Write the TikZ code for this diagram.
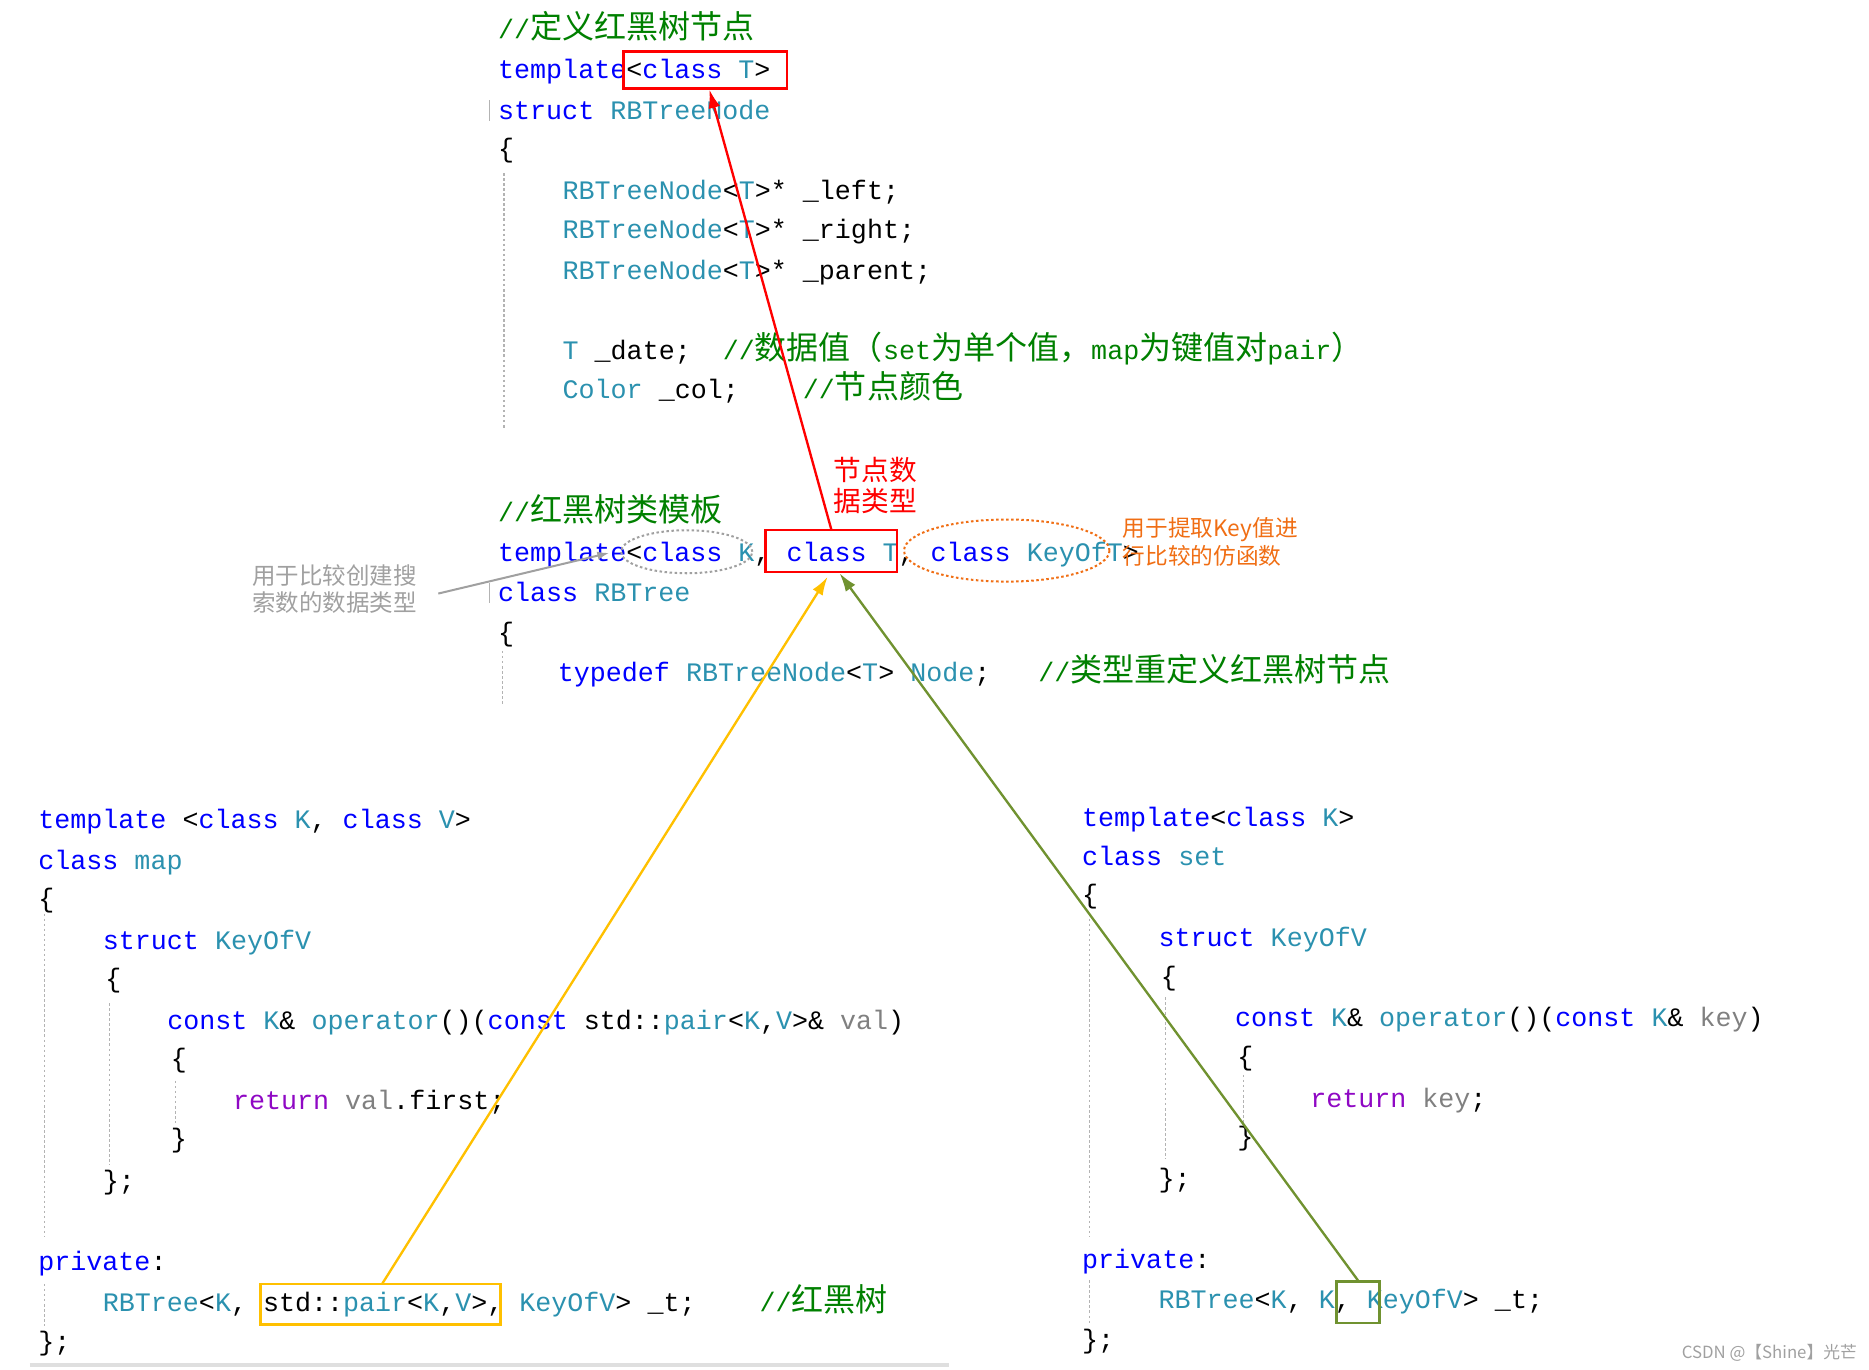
\documentclass[tikz,border=0pt]{standalone}
\usepackage{fontspec}
\setmonofont{Liberation Mono}
\newfontfamily\cjkmono[Scale=1.2]{Noto Sans CJK SC}
\newfontfamily\cjk{Noto Sans CJK SC}
\usetikzlibrary{arrows.meta,shapes.geometric}
\definecolor{kwc}{RGB}{0,0,255}
\definecolor{tyc}{RGB}{43,145,175}
\definecolor{cmc}{RGB}{0,128,0}
\definecolor{puc}{RGB}{143,8,196}
\definecolor{grc}{RGB}{128,128,128}
\definecolor{redc}{RGB}{255,0,0}
\definecolor{yelc}{RGB}{255,192,0}
\definecolor{grnc}{RGB}{112,146,48}
\definecolor{orac}{RGB}{240,110,20}
\definecolor{annc}{RGB}{160,160,160}
\newcommand\kw[1]{{\color{kwc}#1}}
\newcommand\ty[1]{{\color{tyc}#1}}
\newcommand\cm[1]{{\color{cmc}#1}}
\newcommand\pu[1]{{\color{puc}#1}}
\newcommand\gv[1]{{\color{grc}#1}}
\newcommand\cn[1]{{\cjkmono #1}}
\begin{document}
\begin{tikzpicture}[x=0.05cm,y=-0.05cm,
  code/.style={anchor=west,inner sep=0,yshift=-5*0.05cm,font=\ttfamily\fontsize{31.8pt}{36pt}\selectfont,text height=0.75em,text depth=0.2em},
  ann/.style={anchor=north west,inner sep=0,align=left,font=\cjk\fontsize{#1}{#1}\selectfont},
  hbox/.style={draw,line width=2.8pt,inner sep=0},
  guide/.style={draw=grc!60,dashed,line width=1.4pt},
  arr/.style={line width=2.8pt,-{Latex[length=22pt,width=14pt]}}]
\useasboundingbox (0,0) rectangle (1565,1147);
% RBTreeNode
\node[code] (a1) at (417,25) {\cm{//\cn{定义红黑树节点}}};
\node[code] (a2) at (417,59) {\kw{template}<\kw{class} \ty{T}>};
\node[code] (a3) at (417,93) {\kw{struct} \ty{RBTreeNode}};
\node[code] (a4) at (417,125) {\{};
\node[code] (a5) at (471,160) {\ty{RBTreeNode}<\ty{T}>* \_left;};
\node[code] (a6) at (471,193) {\ty{RBTreeNode}<\ty{T}>* \_right;};
\node[code] (a7) at (471,227) {\ty{RBTreeNode}<\ty{T}>* \_parent;};
\node[code] (a8) at (471,294) {\ty{T} \_date;~~\cm{//\cn{数据值（}set\cn{为单个值，}map\cn{为键值对}pair\cn{）}}};
\node[code] (a9) at (471,327) {\ty{Color} \_col;~~~~\cm{//\cn{节点颜色}}};
\draw[guide] (422,145) -- (422,360);
\draw[grc!60,line width=1.4pt] (410,84) -- (410,101);
% RBTree
\node[code] (b1) at (417,430) {\cm{//\cn{红黑树类模板}}};
\node[code] (b2) at (417,463) {\kw{template}<\kw{class} \ty{K},~\kw{class} \ty{T},~\kw{class} \ty{KeyOfT}>};
\node[code] (b3) at (417,497) {\kw{class} \ty{RBTree}};
\node[code] (b4) at (417,530) {\{};
\node[code] (b5) at (467,564) {\kw{typedef} \ty{RBTreeNode}<\ty{T}> \ty{Node};~~~\cm{//\cn{类型重定义红黑树节点}}};
\draw[guide] (421,545) -- (421,590);
\draw[grc!60,line width=1.4pt] (410,488) -- (410,505);
\node[hbox,draw=redc,minimum width=110*0.05cm,minimum height=35*0.05cm] (rb) at (696,461.5) {};
\node[hbox,draw=redc,minimum width=137*0.05cm,minimum height=31*0.05cm] (rt) at (590.5,58.5) {};
\node[draw=annc,dashed,line width=2.4pt,ellipse,minimum width=110*0.05cm,minimum height=36*0.05cm,inner sep=0] (ek) at (575,462) {};
\node[draw=orac,dashed,line width=2.4pt,ellipse,minimum width=172*0.05cm,minimum height=52*0.05cm,inner sep=0] (eo) at (843,461) {};
\node[ann=33pt,text=redc] (t1) at (698,383) {节点数\\[4pt]据类型};
\node[ann=27pt,text=orac] (t2) at (940,433) {用于提取Key值进\\[4pt]行比较的仿函数};
\node[ann=28pt,text=annc] (t3) at (211,473) {用于比较创建搜\\[4pt]索数的数据类型};
\coordinate (g1) at (367,497);
\draw[annc,line width=2.4pt,-{Latex[length=14pt,width=10pt]}] (g1) -- (510,463);
% map
\node[code] (m1) at (32,687) {\kw{template} <\kw{class} \ty{K},~\kw{class} \ty{V}>};
\node[code] (m2) at (32,721) {\kw{class} \ty{map}};
\node[code] (m3) at (32,753) {\{};
\node[code] (m4) at (86,788) {\kw{struct} \ty{KeyOfV}};
\node[code] (m5) at (88,820) {\{};
\node[code] (m6) at (140,855) {\kw{const} \ty{K}\& \ty{operator}()(\kw{const} std::\ty{pair}<\ty{K},\ty{V}>\& \gv{val})};
\node[code] (m7) at (143,887) {\{};
\node[code] (m8) at (195,922) {\pu{return} \gv{val}.first;};
\node[code] (m9) at (143,954) {\}};
\node[code] (m10) at (86,989) {\};};
\node[code] (m11) at (32,1057) {\kw{private}:};
\node[code] (m12) at (86,1091) {\ty{RBTree}<\ty{K},~std::\ty{pair}<\ty{K},\ty{V}>,~\ty{KeyOfV}> \_t;~~~~\cm{//\cn{红黑树}}};
\node[code] (m13) at (32,1124) {\};};
\draw[guide] (37,765) -- (37,1035);
\draw[guide] (92,840) -- (92,975);
\draw[guide] (147,905) -- (147,940);
\draw[guide] (37,1075) -- (37,1110);
\draw[grc!25,line width=4pt] (25,1143) -- (795,1143);
\node[hbox,draw=yelc,minimum width=201*0.05cm,minimum height=34*0.05cm] (yb) at (318.5,1092) {};
% set
\node[code] (s1) at (906,685) {\kw{template}<\kw{class} \ty{K}>};
\node[code] (s2) at (906,718) {\kw{class} \ty{set}};
\node[code] (s3) at (906,750) {\{};
\node[code] (s4) at (970,786) {\kw{struct} \ty{KeyOfV}};
\node[code] (s5) at (972,818) {\{};
\node[code] (s6) at (1034,853) {\kw{const} \ty{K}\& \ty{operator}()(\kw{const} \ty{K}\& \gv{key})};
\node[code] (s7) at (1036,885) {\{};
\node[code] (s8) at (1097,920) {\pu{return} \gv{key};};
\node[code] (s9) at (1036,952) {\}};
\node[code] (s10) at (970,987) {\};};
\node[code] (s11) at (906,1055) {\kw{private}:};
\node[code] (s12) at (970,1089) {\ty{RBTree}<\ty{K},~\ty{K},~\ty{KeyOfV}> \_t;};
\node[code] (s13) at (906,1122) {\};};
\draw[guide] (912,765) -- (912,1035);
\draw[guide] (976,835) -- (976,970);
\draw[guide] (1041,900) -- (1041,940);
\draw[guide] (912,1072) -- (912,1108);
\node[hbox,draw=grnc,minimum width=36*0.05cm,minimum height=35*0.05cm] (gb) at (1137,1090.5) {};
\node[anchor=east,inner sep=0,text=annc,font=\cjk\fontsize{20pt}{20pt}\selectfont] (wm) at (1555,1133) {CSDN @【Shine】光芒};
% arrows
\coordinate (rtip) at (594,75);
\coordinate (ytip) at (693,483);
\coordinate (gtip) at (703,480);
\draw[arr,redc] (rb.north) -- (rtip);
\draw[arr,yelc] (320,1075) -- (ytip);
\draw[arr,grnc] (gb.north) -- (gtip);
\end{tikzpicture}
\end{document}
